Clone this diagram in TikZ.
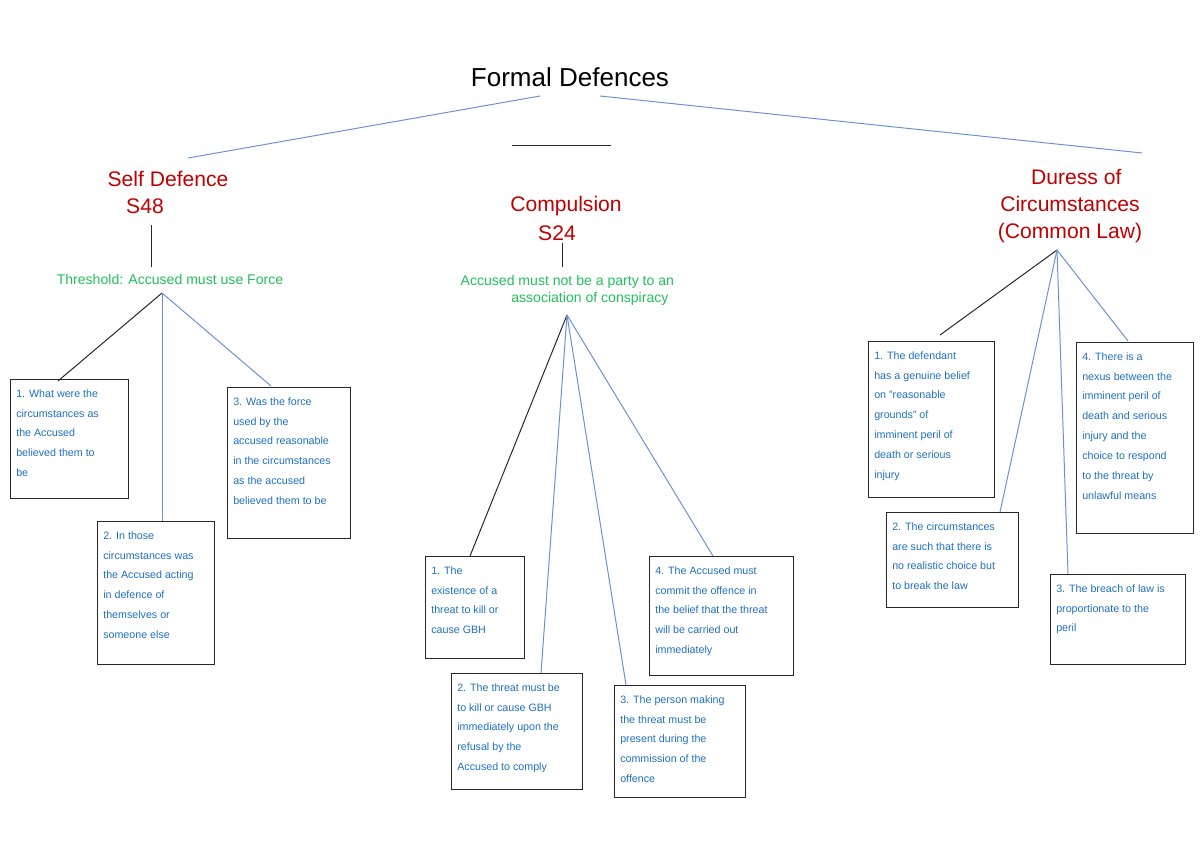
\documentclass[tikz,border=0pt]{standalone}
\usepackage{fontspec}
\setmainfont{Liberation Sans}
\definecolor{tblue}{HTML}{1F6FC0}
\definecolor{lblue}{HTML}{6A8FD8}
\definecolor{dred}{HTML}{C00000}
\definecolor{dgreen}{HTML}{22C05A}
\newcommand{\bx}[6]{%
  \node[boxs,minimum width=#4*0.025cm,minimum height=#5*0.025cm] (#1) at (#2,#3) {};
  \node[btext] (#1t) at (#2+6,#3+10) {#6};}
\begin{document}
\begin{tikzpicture}[x=0.025cm,y=-0.025cm,
  boxs/.style={draw=black!85,line width=0.9pt,anchor=north west,inner sep=0pt},
  btext/.style={anchor=north west,align=left,text=tblue,font=\fontsize{7.6}{14.2}\selectfont,inner sep=0pt},
  head/.style={text=dred,font=\fontsize{15}{19.3}\selectfont,align=center},
  grn/.style={text=dgreen,font=\fontsize{10}{12}\selectfont},
  bl/.style={draw=lblue,line width=0.7pt},
  bk/.style={draw=black!85,line width=0.7pt}]
\useasboundingbox (0,0) rectangle (1200,849);
\node[font=\fontsize{18.5}{22}\selectfont] (title) at (570,77) {Formal Defences};
\coordinate (tl) at (540,96); \coordinate (tr) at (600,96);
\coordinate (sl) at (512,145); \coordinate (sr) at (611,145);
\draw[bk] (sl) -- (sr);
\node[head] (sd) at (168,179) {Self Defence};
\node[head] (s48) at (145,206) {S48};
\node[head] (comp) at (566,206) {Compulsion};
\node[head] (s24) at (557,233) {S24};
\node[head] (dur) at (1070,206) {\hspace*{0.6em}Duress of\\Circumstances\\(Common Law)};
\coordinate (sdt) at (188,158); \coordinate (durt) at (1142,153);
\draw[bl] (tl) -- (sdt); \draw[bl] (tr) -- (durt);
\node[grn] (thr) at (170,279) {Threshold: Accused must use Force};
\node[grn,align=right,anchor=north east] (acc) at (679,270) {Accused must not be a party to an\\association of conspiracy\hspace*{0.4em}};
\coordinate (v1a) at (151,225); \coordinate (v1b) at (151,267);
\coordinate (v2a) at (562,243); \coordinate (v2b) at (562,267);
\draw[bk] (v1a) -- (v1b); \draw[bk] (v2a) -- (v2b);
\coordinate (f1) at (162,293); \coordinate (f2) at (567,315); \coordinate (f3) at (1057,250);
\bx{a1}{10}{379}{118}{119}{1. What were the\\circumstances as\\the Accused\\believed them to\\be}
\bx{a2}{97}{521}{117}{143}{2. In those\\circumstances was\\the Accused acting\\in defence of\\themselves or\\someone else}
\bx{a3}{227}{387}{123}{151}{3. Was the force\\used by the\\accused reasonable\\in the circumstances\\as the accused\\believed them to be}
\bx{b1}{425}{556}{99}{102}{1. The\\existence of a\\threat to kill or\\cause GBH}
\bx{b2}{451}{673}{131}{116}{2. The threat must be\\to kill or cause GBH\\immediately upon the\\refusal by the\\Accused to comply}
\bx{b3}{614}{685}{131}{112}{3. The person making\\the threat must be\\present during the\\commission of the\\offence}
\bx{b4}{649}{556}{144}{119}{4. The Accused must\\commit the offence in\\the belief that the threat\\will be carried out\\immediately}
\bx{c1}{868}{341}{126}{156}{1. The defendant\\has a genuine belief\\on "reasonable\\grounds" of\\imminent peril of\\death or serious\\injury}
\bx{c2}{886}{512}{132}{95}{2. The circumstances\\are such that there is\\no realistic choice but\\to break the law}
\bx{c3}{1050}{574}{135}{90}{3. The breach of law is\\proportionate to the\\peril}
\bx{c4}{1076}{342}{117}{191}{4. There is a\\nexus between the\\imminent peril of\\death and serious\\injury and the\\choice to respond\\to the threat by\\unlawful means}
\draw[bk] (f1) -- (58,381);
\draw[bl] (f1) -- (a2.north west -| f1);
\draw[bl] (f1) -- (271,386);
\draw[bk] (f2) -- (470,556);
\draw[bl] (f2) -- (541,673);
\draw[bl] (f2) -- (626,685);
\draw[bl] (f2) -- (713,556);
\draw[bk] (f3) -- (940,335);
\draw[bl] (f3) -- (1000,512);
\draw[bl] (f3) -- (1068,574);
\draw[bl] (f3) -- (1128,341);
\end{tikzpicture}
\end{document}
